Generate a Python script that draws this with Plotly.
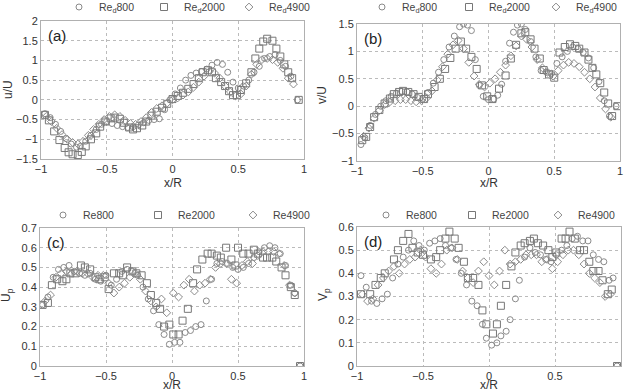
import plotly.graph_objects as go

# ---------------- data ----------------
# (a) u/U
a_x800 = [-0.97,-0.93,-0.89,-0.85,-0.81,-0.77,-0.73,-0.70,-0.66,-0.62,-0.58,-0.54,-0.50,-0.46,-0.42,-0.38,-0.34,-0.30,-0.26,-0.22,-0.18,-0.14,-0.10,-0.06,-0.02,0.02,0.06,0.10,0.14,0.18,0.22,0.26,0.30,0.34,0.38,0.42,0.46,0.50,0.54,0.58,0.62,0.66,0.70,0.74,0.78,0.82,0.86,0.90,0.95]
a_y800 = [-0.35,-0.45,-0.62,-0.80,-0.98,-1.12,-1.20,-1.18,-1.05,-0.90,-0.75,-0.62,-0.55,-0.60,-0.65,-0.68,-0.70,-0.68,-0.64,-0.58,-0.52,-0.50,-0.48,-0.25,0.0,0.15,0.30,0.50,0.62,0.68,0.72,0.78,0.88,0.95,0.90,0.70,0.45,0.30,0.35,0.50,0.70,0.85,1.05,1.10,1.15,1.00,0.85,0.60,0.0]
a_x2000 = [-0.97,-0.94,-0.90,-0.86,-0.82,-0.79,-0.76,-0.72,-0.69,-0.66,-0.62,-0.58,-0.55,-0.51,-0.47,-0.44,-0.40,-0.37,-0.33,-0.30,-0.27,-0.23,-0.20,-0.16,-0.12,-0.08,-0.04,0.0,0.04,0.08,0.12,0.16,0.20,0.23,0.27,0.30,0.33,0.37,0.40,0.43,0.46,0.49,0.52,0.56,0.60,0.63,0.66,0.69,0.72,0.76,0.79,0.82,0.85,0.88,0.91,0.96]
a_y2000 = [-0.38,-0.52,-0.80,-1.02,-1.22,-1.33,-1.38,-1.40,-1.32,-1.18,-1.00,-0.85,-0.68,-0.55,-0.47,-0.45,-0.48,-0.58,-0.70,-0.75,-0.72,-0.65,-0.55,-0.40,-0.30,-0.20,-0.10,0.02,0.10,0.18,0.28,0.40,0.55,0.70,0.75,0.70,0.55,0.45,0.35,0.22,0.12,0.12,0.25,0.42,0.70,1.05,1.30,1.48,1.55,1.50,1.30,1.10,0.90,0.70,0.55,0.0]
a_x4900 = [-0.96,-0.92,-0.88,-0.84,-0.80,-0.76,-0.72,-0.68,-0.64,-0.60,-0.56,-0.52,-0.48,-0.44,-0.40,-0.36,-0.32,-0.28,-0.24,-0.20,-0.16,-0.12,-0.08,-0.04,0.0,0.04,0.08,0.12,0.16,0.20,0.24,0.28,0.32,0.36,0.40,0.44,0.48,0.52,0.56,0.60,0.64,0.68,0.72,0.76,0.80,0.84,0.88,0.92]
a_y4900 = [-0.42,-0.55,-0.72,-0.88,-1.00,-1.08,-1.12,-1.05,-0.90,-0.75,-0.62,-0.50,-0.42,-0.38,-0.42,-0.52,-0.60,-0.62,-0.55,-0.45,-0.32,-0.22,-0.15,-0.08,0.0,0.05,0.12,0.20,0.32,0.45,0.60,0.72,0.68,0.55,0.35,0.20,0.10,0.15,0.35,0.65,0.90,1.02,1.05,1.02,0.95,0.80,0.55,0.40]

# (b) v/U
b_x800 = [-0.97,-0.94,-0.90,-0.86,-0.82,-0.78,-0.74,-0.70,-0.66,-0.62,-0.58,-0.54,-0.50,-0.46,-0.42,-0.38,-0.34,-0.30,-0.26,-0.22,-0.19,-0.16,-0.13,-0.10,-0.07,-0.04,0.0,0.04,0.07,0.10,0.13,0.16,0.19,0.22,0.25,0.28,0.32,0.36,0.40,0.44,0.48,0.52,0.56,0.60,0.64,0.68,0.72,0.76,0.80,0.84,0.88,0.92,0.97]
b_y800 = [-0.70,-0.58,-0.35,-0.15,0.00,0.10,0.18,0.24,0.27,0.26,0.22,0.16,0.14,0.25,0.42,0.62,0.85,1.08,1.28,1.45,1.50,1.48,1.38,0.85,0.38,0.18,0.12,0.13,0.20,0.40,0.82,1.15,1.35,1.48,1.50,1.40,1.18,0.90,0.65,0.62,0.60,0.78,0.90,1.00,1.08,1.05,0.98,0.88,0.70,0.45,0.10,-0.18,0.0]
b_x2000 = [-0.96,-0.93,-0.90,-0.87,-0.83,-0.79,-0.75,-0.72,-0.68,-0.65,-0.61,-0.57,-0.53,-0.49,-0.46,-0.41,-0.37,-0.33,-0.29,-0.25,-0.21,-0.17,-0.13,-0.09,-0.05,-0.01,0.03,0.08,0.13,0.17,0.21,0.25,0.28,0.32,0.35,0.39,0.42,0.46,0.50,0.54,0.58,0.62,0.66,0.69,0.73,0.76,0.79,0.82,0.85,0.88,0.91,0.94,0.98]
b_y2000 = [-0.62,-0.56,-0.38,-0.20,-0.07,0.05,0.14,0.22,0.26,0.28,0.26,0.22,0.17,0.13,0.22,0.35,0.50,0.68,0.88,1.05,1.18,1.05,0.90,0.68,0.38,0.18,0.13,0.32,0.56,0.87,1.12,1.33,1.35,1.22,1.05,0.87,0.66,0.58,0.52,0.98,1.08,1.13,1.10,1.05,0.98,0.85,0.70,0.58,0.42,0.25,0.05,-0.18,0.0]
b_x4900 = [-0.95,-0.91,-0.87,-0.83,-0.79,-0.75,-0.71,-0.67,-0.63,-0.59,-0.55,-0.51,-0.47,-0.43,-0.39,-0.35,-0.31,-0.27,-0.23,-0.19,-0.15,-0.11,-0.07,-0.03,0.01,0.05,0.09,0.13,0.17,0.21,0.25,0.29,0.33,0.37,0.41,0.45,0.49,0.53,0.57,0.61,0.65,0.69,0.73,0.77,0.81,0.85,0.89,0.93]
b_y4900 = [-0.55,-0.40,-0.22,-0.08,0.03,0.08,0.10,0.12,0.12,0.10,0.08,0.10,0.15,0.28,0.48,0.72,0.95,1.12,1.20,1.05,0.80,0.55,0.40,0.35,0.42,0.50,0.62,0.75,0.92,1.10,1.28,1.22,1.08,0.85,0.70,0.62,0.55,0.65,0.75,0.80,0.78,0.72,0.62,0.50,0.35,0.15,-0.05,-0.20]

# (c) Up
c_x800 = [-0.98,-0.94,-0.90,-0.86,-0.82,-0.78,-0.74,-0.70,-0.66,-0.62,-0.58,-0.54,-0.50,-0.46,-0.42,-0.38,-0.34,-0.30,-0.26,-0.22,-0.18,-0.14,-0.10,-0.06,-0.02,0.02,0.06,0.10,0.14,0.18,0.22,0.26,0.30,0.34,0.38,0.42,0.46,0.50,0.54,0.58,0.62,0.66,0.70,0.74,0.78,0.82,0.86,0.90,0.93,0.97]
c_y800 = [0.31,0.35,0.45,0.49,0.50,0.51,0.48,0.47,0.46,0.47,0.44,0.43,0.46,0.41,0.44,0.48,0.49,0.48,0.46,0.40,0.34,0.28,0.21,0.16,0.11,0.12,0.12,0.17,0.18,0.20,0.21,0.33,0.44,0.52,0.53,0.52,0.50,0.49,0.50,0.52,0.55,0.58,0.60,0.61,0.60,0.57,0.51,0.41,0.37,0.0]
c_x2000 = [-0.98,-0.94,-0.91,-0.87,-0.83,-0.80,-0.77,-0.73,-0.69,-0.66,-0.62,-0.58,-0.55,-0.51,-0.48,-0.44,-0.40,-0.37,-0.34,-0.30,-0.27,-0.23,-0.19,-0.16,-0.12,-0.09,-0.06,-0.02,0.01,0.05,0.08,0.12,0.16,0.19,0.23,0.27,0.30,0.34,0.37,0.41,0.45,0.48,0.50,0.54,0.58,0.62,0.65,0.69,0.72,0.76,0.79,0.83,0.86,0.90,0.93,0.97]
c_y2000 = [0.31,0.32,0.41,0.44,0.43,0.44,0.47,0.47,0.51,0.50,0.49,0.45,0.44,0.45,0.39,0.47,0.47,0.46,0.50,0.48,0.47,0.46,0.42,0.36,0.32,0.29,0.20,0.21,0.16,0.16,0.23,0.29,0.42,0.49,0.54,0.57,0.57,0.56,0.55,0.60,0.54,0.51,0.60,0.57,0.57,0.59,0.57,0.55,0.55,0.55,0.53,0.50,0.46,0.40,0.36,0.0]
c_x4900 = [-0.96,-0.92,-0.88,-0.84,-0.80,-0.76,-0.72,-0.68,-0.64,-0.60,-0.56,-0.52,-0.48,-0.44,-0.40,-0.36,-0.32,-0.28,-0.24,-0.20,-0.16,-0.12,-0.08,-0.04,0.01,0.05,0.09,0.13,0.17,0.21,0.25,0.29,0.33,0.37,0.41,0.45,0.49,0.53,0.57,0.61,0.65,0.69,0.73,0.77,0.81,0.85,0.89,0.93]
c_y4900 = [0.33,0.36,0.45,0.47,0.48,0.47,0.48,0.47,0.47,0.45,0.46,0.46,0.42,0.37,0.40,0.42,0.45,0.47,0.44,0.38,0.33,0.30,0.34,0.27,0.37,0.35,0.41,0.44,0.38,0.41,0.42,0.44,0.50,0.52,0.52,0.44,0.42,0.51,0.53,0.52,0.56,0.58,0.58,0.58,0.57,0.51,0.41,0.37]

# (d) Vp
d_x800 = [-0.97,-0.93,-0.89,-0.85,-0.81,-0.77,-0.73,-0.69,-0.65,-0.61,-0.57,-0.53,-0.49,-0.45,-0.41,-0.37,-0.33,-0.29,-0.25,-0.21,-0.17,-0.13,-0.09,-0.05,-0.02,0.02,0.06,0.09,0.13,0.16,0.20,0.23,0.27,0.31,0.35,0.39,0.43,0.47,0.51,0.55,0.59,0.63,0.67,0.71,0.75,0.79,0.83,0.87,0.91,0.94,0.97]
d_y800 = [0.39,0.34,0.28,0.27,0.29,0.31,0.38,0.44,0.47,0.50,0.54,0.52,0.50,0.53,0.54,0.55,0.52,0.51,0.46,0.40,0.35,0.28,0.26,0.18,0.12,0.09,0.10,0.13,0.15,0.20,0.29,0.37,0.47,0.51,0.49,0.48,0.46,0.45,0.48,0.50,0.52,0.55,0.56,0.54,0.54,0.48,0.46,0.45,0.37,0.38,0.0]
d_x2000 = [-0.97,-0.90,-0.86,-0.82,-0.79,-0.72,-0.69,-0.65,-0.61,-0.58,-0.54,-0.50,-0.44,-0.40,-0.37,-0.33,-0.30,-0.26,-0.23,-0.19,-0.16,-0.12,-0.08,-0.05,-0.02,0.03,0.06,0.09,0.13,0.17,0.20,0.24,0.27,0.31,0.34,0.37,0.41,0.45,0.48,0.51,0.55,0.58,0.61,0.65,0.69,0.72,0.76,0.79,0.83,0.86,0.90,0.93,0.97]
d_y2000 = [0.31,0.31,0.35,0.38,0.40,0.46,0.50,0.54,0.57,0.51,0.49,0.48,0.46,0.47,0.50,0.55,0.58,0.55,0.51,0.45,0.38,0.38,0.35,0.24,0.18,0.14,0.18,0.26,0.35,0.43,0.49,0.52,0.53,0.54,0.55,0.53,0.52,0.50,0.47,0.49,0.55,0.55,0.58,0.55,0.50,0.50,0.45,0.41,0.41,0.37,0.31,0.33,0.0]
d_x4900 = [-0.96,-0.92,-0.88,-0.84,-0.80,-0.76,-0.72,-0.68,-0.64,-0.60,-0.56,-0.52,-0.48,-0.44,-0.40,-0.36,-0.32,-0.28,-0.24,-0.20,-0.16,-0.12,-0.08,-0.04,0.0,0.04,0.08,0.12,0.16,0.20,0.24,0.28,0.32,0.36,0.40,0.44,0.48,0.52,0.56,0.60,0.64,0.68,0.72,0.76,0.80,0.84,0.88,0.92]
d_y4900 = [0.31,0.28,0.29,0.35,0.38,0.41,0.43,0.40,0.44,0.46,0.47,0.50,0.47,0.42,0.40,0.44,0.50,0.51,0.46,0.41,0.38,0.36,0.41,0.45,0.39,0.35,0.41,0.50,0.44,0.45,0.46,0.48,0.48,0.48,0.45,0.46,0.42,0.45,0.48,0.50,0.50,0.48,0.44,0.40,0.38,0.36,0.30,0.31]

top_names = ["Re<sub>d</sub>800", "Re<sub>d</sub>2000", "Re<sub>d</sub>4900"]
bot_names = ["Re800", "Re2000", "Re4900"]
panel_labels = ["(a)", "(b)", "(c)", "(d)"]
y_titles = ["u/U", "v/U", "U<sub>p</sub>", "V<sub>p</sub>"]
x_title = "x/R"

# ---------------- figure ----------------
W, H = 624, 391
FONT = "Liberation Sans, Arial, sans-serif"
symbols = ["circle-open", "square-open", "diamond-open"]
sizes = [6, 7, 6]
colors = ["#8a8a8a", "#777777", "#8a8a8a"]

panels = [
    ((a_x800, a_y800), (a_x2000, a_y2000), (a_x4900, a_y4900)),
    ((b_x800, b_y800), (b_x2000, b_y2000), (b_x4900, b_y4900)),
    ((c_x800, c_y800), (c_x2000, c_y2000), (c_x4900, c_y4900)),
    ((d_x800, d_y800), (d_x2000, d_y2000), (d_x4900, d_y4900)),
]
# pixel layout
boxes = [(41, 21, 304, 159), (357, 24, 620, 161), (40, 228, 304, 366), (357, 227, 621, 366)]
yranges = [[-1.5, 2], [-1, 1.5], [0, 0.7], [0, 0.6]]
ydticks = [0.5, 0.5, 0.1, 0.1]
legend_pos = [(59, 7), (362, 7), (43, 215), (366, 215)]
legend_gap = [40, 42, 50, 41]
ytitle_pos = [(8, 90), (322, 95), (7, 295), (324, 295)]
xtitle_y = [183, 183, 385, 385]

fig = go.Figure()
layout = dict(width=W, height=H, margin=dict(l=0, r=0, t=0, b=0, autoexpand=False),
              paper_bgcolor="white", plot_bgcolor="white", showlegend=True)
annotations = []
for i, (series, box, yr, dt) in enumerate(zip(panels, boxes, yranges, ydticks)):
    sfx = "" if i == 0 else str(i + 1)
    lg = "legend" if i == 0 else "legend" + str(i + 1)
    names = top_names if i < 2 else bot_names
    for j, (xs, ys) in enumerate(series):
        fig.add_trace(go.Scatter(
            x=xs, y=ys, mode="markers", name=names[j], legend=lg,
            xaxis="x" + sfx, yaxis="y" + sfx, cliponaxis=True,
            marker=dict(symbol=symbols[j], size=sizes[j], color=colors[j],
                        line=dict(width=1, color=colors[j]))))
    l, t, r, b = box
    axcommon = dict(showgrid=True, gridcolor="#bbbbbb", griddash="dot", gridwidth=1,
                    showline=True, linecolor="#b0b0b0", linewidth=1, mirror=True,
                    zeroline=False, ticks="", automargin=False,
                    tickfont=dict(family=FONT, size=11, color="#333"))
    layout["xaxis" + sfx] = dict(axcommon, domain=[l / W, r / W], range=[-1, 1], dtick=0.5,
                                 anchor="y" + sfx)
    layout["yaxis" + sfx] = dict(axcommon, domain=[1 - b / H, 1 - t / H], range=yr, dtick=dt,
                                 anchor="x" + sfx)
    lx, ly = legend_pos[i]
    layout[lg] = dict(orientation="h", x=lx / W, y=1 - ly / H, xanchor="left", yanchor="middle",
                      entrywidth=legend_gap[i], entrywidthmode="pixels", bgcolor="rgba(0,0,0,0)",
                      font=dict(family=FONT, size=10.5, color="#444"), itemclick=False)
    annotations.append(dict(text=panel_labels[i], xref="x" + sfx + " domain", yref="y" + sfx + " domain",
                            x=0.02, y=0.97, xanchor="left", yanchor="top", showarrow=False,
                            font=dict(family=FONT, size=15, color="#222")))
    tx, ty = ytitle_pos[i]
    annotations.append(dict(text=y_titles[i], xref="paper", yref="paper", x=tx / W, y=1 - ty / H,
                            xanchor="center", yanchor="middle", textangle=-90, showarrow=False,
                            font=dict(family=FONT, size=12, color="#333")))
    annotations.append(dict(text=x_title, xref="paper", yref="paper", x=((l + r) / 2) / W,
                            y=1 - xtitle_y[i] / H, xanchor="center", yanchor="middle",
                            showarrow=False, font=dict(family=FONT, size=12, color="#333")))
layout["annotations"] = annotations
fig.update_layout(**layout)
fig.write_html("out.html", config={"displayModeBar": False},
               post_script="document.body.style.margin='0px';document.body.style.overflow='hidden';")
